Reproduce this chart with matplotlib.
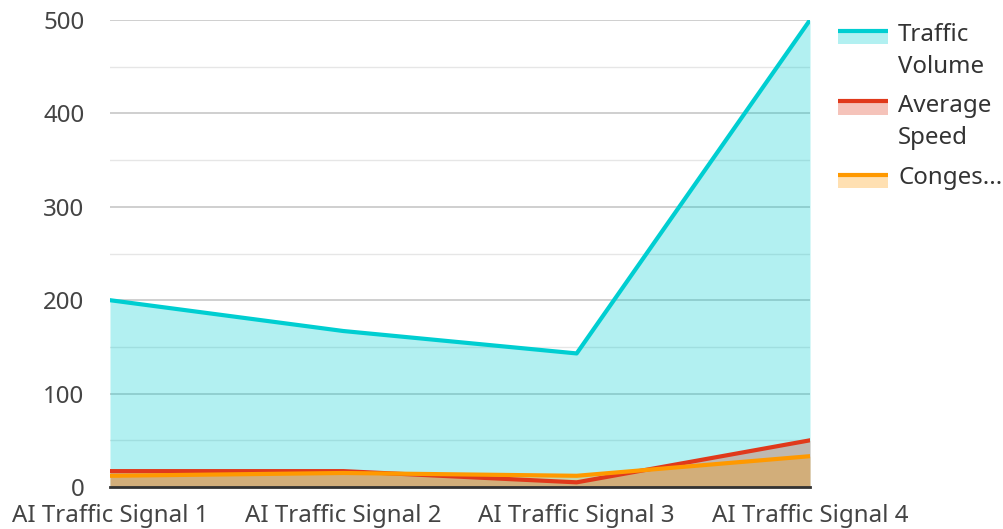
import matplotlib.pyplot as plt
from matplotlib.patches import Rectangle
from matplotlib.lines import Line2D
from matplotlib.legend_handler import HandlerBase

plt.rcParams['font.family'] = ['Noto Sans', 'DejaVu Sans']

signals = ["AI Traffic Signal 1", "AI Traffic Signal 2", "AI Traffic Signal 3", "AI Traffic Signal 4"]
traffic_volume = [200, 167, 143, 500]
average_speed = [17, 17, 5, 50]
congestion = [12, 15, 12, 33]
legend_labels = ["Traffic\nVolume", "Average\nSpeed", "Conges..."]

line_colors = ["#00CED1", "#E0391B", "#FF9900"]
FS = 17.3


class AreaHandler(HandlerBase):
    # line on top of a light filled box, shifted up for two-line labels
    def create_artists(self, legend, orig_handle, xdescent, ydescent, width, height, fontsize, trans):
        color, shift = orig_handle
        h = 0.55 * fontsize
        y0 = -ydescent + shift + 0.5 * height - h
        rect = Rectangle((-xdescent, y0), width, h, facecolor=color, alpha=0.3, lw=0, transform=trans)
        line = Line2D([-xdescent, -xdescent + width], [y0 + h, y0 + h], color=color, lw=3,
                      solid_capstyle='butt', transform=trans)
        return [rect, line]


fig = plt.figure(figsize=(10.04, 5.29), dpi=100)
ax = fig.add_axes([110 / 1004, 1 - 487 / 529, 700 / 1004, 467 / 529])

x = list(range(len(signals)))
series = [traffic_volume, average_speed, congestion]
for vals, lc in zip(series, line_colors):
    ax.fill_between(x, 0, vals, color=lc, alpha=0.3, lw=0, zorder=2)
for vals, lc in zip(series, line_colors):
    ax.plot(x, vals, color=lc, lw=3, zorder=3)

ax.set_xlim(0, 3)
ax.set_ylim(0, 500)
ax.set_yticks([0, 100, 200, 300, 400, 500])
ax.set_yticks([50, 150, 250, 350, 450], minor=True)
ax.grid(axis='y', which='major', color='#CCCCCC', lw=1.3, zorder=2.5)
ax.grid(axis='y', which='minor', color='#E6E6E6', lw=1.0, zorder=2.5)
ax.set_xticks(x)
ax.set_xticklabels(signals)
for s in ['top', 'right', 'left']:
    ax.spines[s].set_visible(False)
ax.spines['bottom'].set_color('#333333')
ax.spines['bottom'].set_linewidth(2)
ax.spines['bottom'].set_zorder(4)
ax.tick_params(axis='both', which='both', length=0, labelsize=FS, colors='#444444')
ax.tick_params(axis='x', pad=12.5)
ax.tick_params(axis='y', pad=18.5)

shift2 = 0.72 * FS + 3
handles = [(line_colors[0], shift2), (line_colors[1], shift2), (line_colors[2], 0.7)]
leg = fig.legend(handles, legend_labels, loc='upper left', bbox_to_anchor=(838 / 1004, 1 - 23 / 529),
                 frameon=False, fontsize=FS, labelcolor='#333333', handlelength=2.1, handleheight=1.0,
                 handletextpad=0.4, labelspacing=0.6, borderpad=0, borderaxespad=0,
                 handler_map={tuple: AreaHandler()})
for t in leg.get_texts():
    t.set_linespacing(1.47)

fig.savefig("out.png", dpi=100)
